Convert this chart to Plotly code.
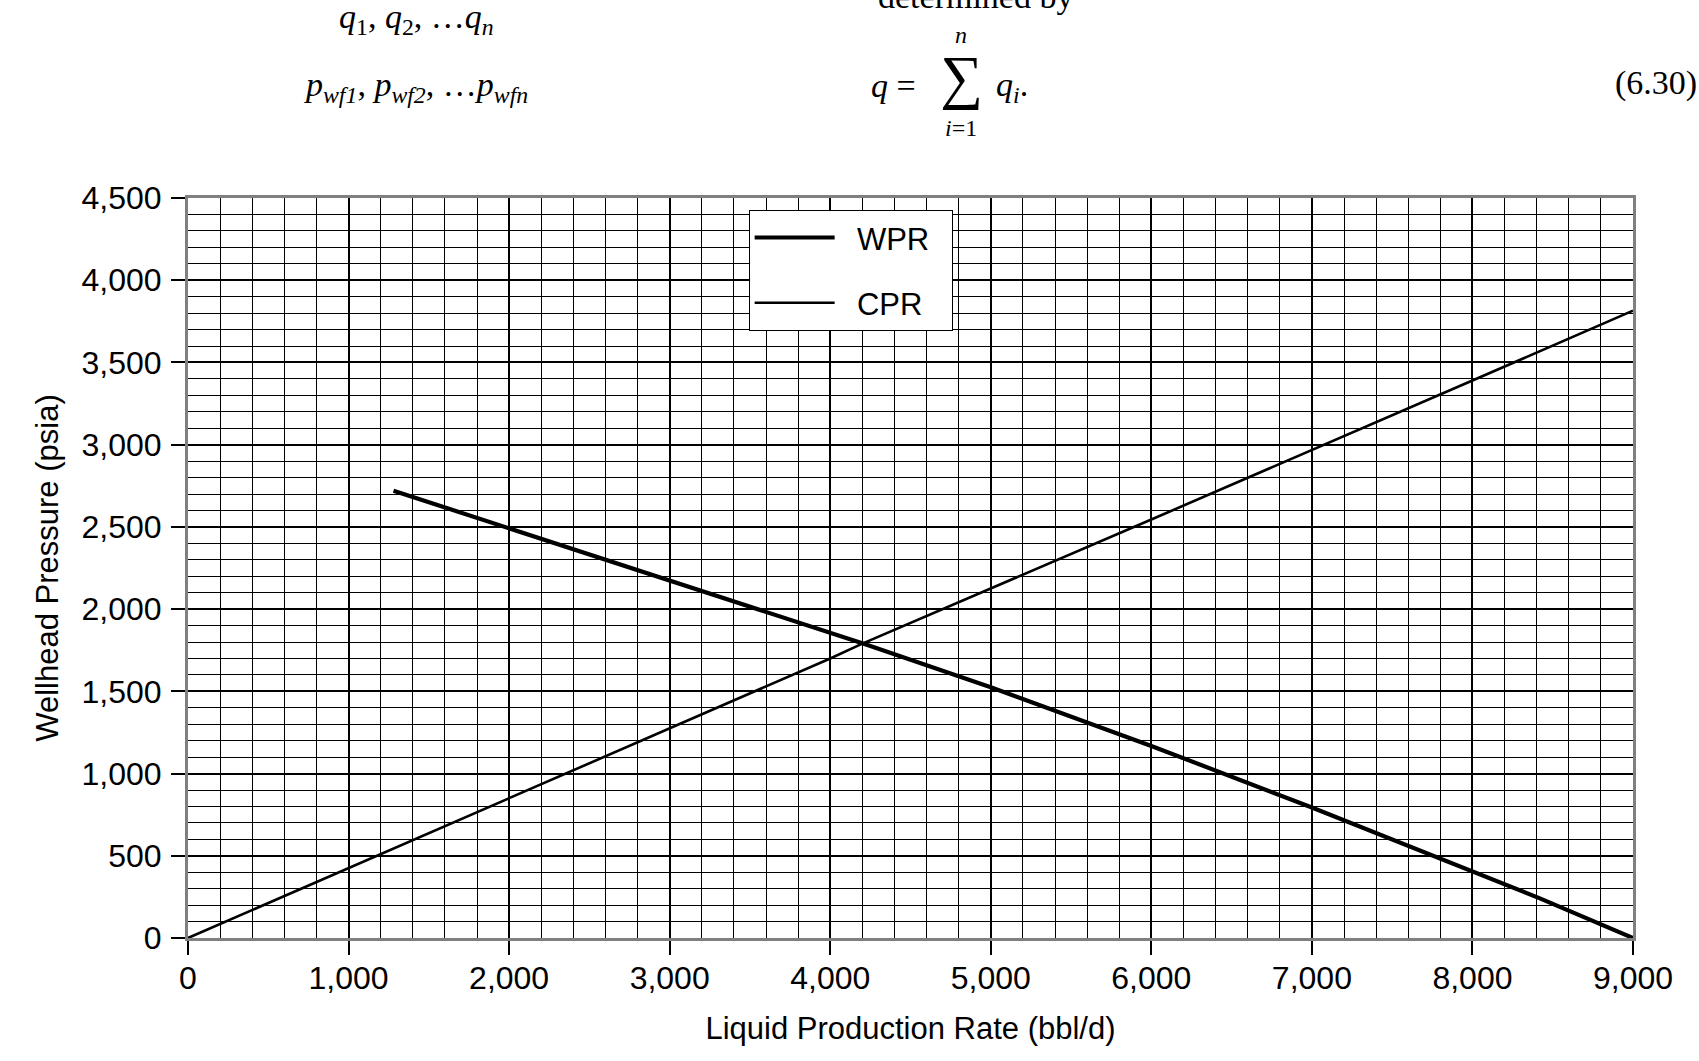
import plotly.graph_objects as go

# ---- data ----
wpr_rate = [1280, 2000, 3000, 4000, 4200, 5000, 6000, 7000, 8000, 8420, 9000]
wpr_pressure = [2720, 2490, 2170, 1855, 1792, 1525, 1168, 794, 405, 241, 0]

cpr_rate = [0, 2000, 4000, 4200, 6000, 8000, 9000]
cpr_pressure = [0, 850, 1700, 1790, 2545, 3390, 3815]

x_ticks = [0, 1000, 2000, 3000, 4000, 5000, 6000, 7000, 8000, 9000]
x_tick_labels = ["0", "1,000", "2,000", "3,000", "4,000", "5,000", "6,000", "7,000", "8,000", "9,000"]
y_ticks = [0, 500, 1000, 1500, 2000, 2500, 3000, 3500, 4000, 4500]
y_tick_labels = ["0", "500", "1,000", "1,500", "2,000", "2,500", "3,000", "3,500", "4,000", "4,500"]

SANS = "Liberation Sans, Arial, sans-serif"
SERIF = "Liberation Serif, Times New Roman, serif"
NB = "\u00a0"

fig = go.Figure()
fig.add_trace(go.Scatter(x=wpr_rate, y=wpr_pressure, mode="lines", name=NB * 2 + "WPR" + NB * 2,
                         legendgroup="a", line=dict(color="black", width=4.2)))
fig.add_trace(go.Scatter(x=cpr_rate, y=cpr_pressure, mode="lines", name=NB * 2 + "CPR" + NB * 2,
                         legendgroup="b", line=dict(color="black", width=2.6)))

axis_common = dict(
    showline=True, linecolor="#808080", linewidth=3, mirror=True,
    ticks="outside", ticklen=14, tickwidth=2, tickcolor="black",
    showgrid=True, gridcolor="black", gridwidth=1.5, zeroline=False,
    tickfont=dict(family=SANS, size=32, color="black"),
)

fig.update_xaxes(
    range=[0, 9000], tickvals=x_ticks, ticktext=x_tick_labels,
    minor=dict(dtick=200, showgrid=True, gridcolor="black", gridwidth=1.35, ticks=""),
    title=dict(text="Liquid Production Rate (bbl/d)", font=dict(family=SANS, size=31, color="black"), standoff=22),
    ticklabelstandoff=-4,
    **axis_common,
)
fig.update_yaxes(
    range=[0, 4500], tickvals=y_ticks, ticktext=y_tick_labels,
    minor=dict(dtick=100, showgrid=True, gridcolor="black", gridwidth=1.35, ticks=""),
    title=dict(text="Wellhead Pressure (psia)", font=dict(family=SANS, size=31, color="black"), standoff=14),
    ticklabelstandoff=3,
    **axis_common,
)

def ann(text, x, y, size=34, xanchor="center", yanchor="middle"):
    fig.add_annotation(text=text, x=x, y=y, xref="paper", yref="paper", showarrow=False,
                       xanchor=xanchor, yanchor=yanchor,
                       font=dict(family=SERIF, size=size, color="black"))

ann("<i>q</i><sub>1</sub>, <i>q</i><sub>2</sub>, …<i>q<sub>n</sub></i>", 0.158, 1.242)
ann("<i>p<sub>wf1</sub></i>, <i>p<sub>wf2</sub></i>, …<i>p<sub>wfn</sub></i>", 0.158, 1.150)
ann("determined by", 0.545, 1.272)
ann("<i>q</i> =", 0.488, 1.152)
ann("∑", 0.535, 1.163, size=60)
ann("<i>n</i>", 0.535, 1.220, size=24)
ann("<i>i</i>=1", 0.535, 1.095, size=24)
ann("<i>q<sub>i</sub></i>.", 0.570, 1.150)
ann("(6.30)", 1.0457, 1.155, xanchor="right")

fig.update_layout(
    width=1699, height=1061,
    margin=dict(l=188, r=66, t=198, b=123, autoexpand=False),
    paper_bgcolor="white", plot_bgcolor="white",
    showlegend=True,
    legend=dict(x=0.388, y=0.984, xanchor="left", yanchor="top",
                bgcolor="white", bordercolor="black", borderwidth=1,
                font=dict(family=SANS, size=31, color="black"),
                tracegroupgap=22, traceorder="grouped", itemwidth=80),
)

fig.write_html("out.html")
